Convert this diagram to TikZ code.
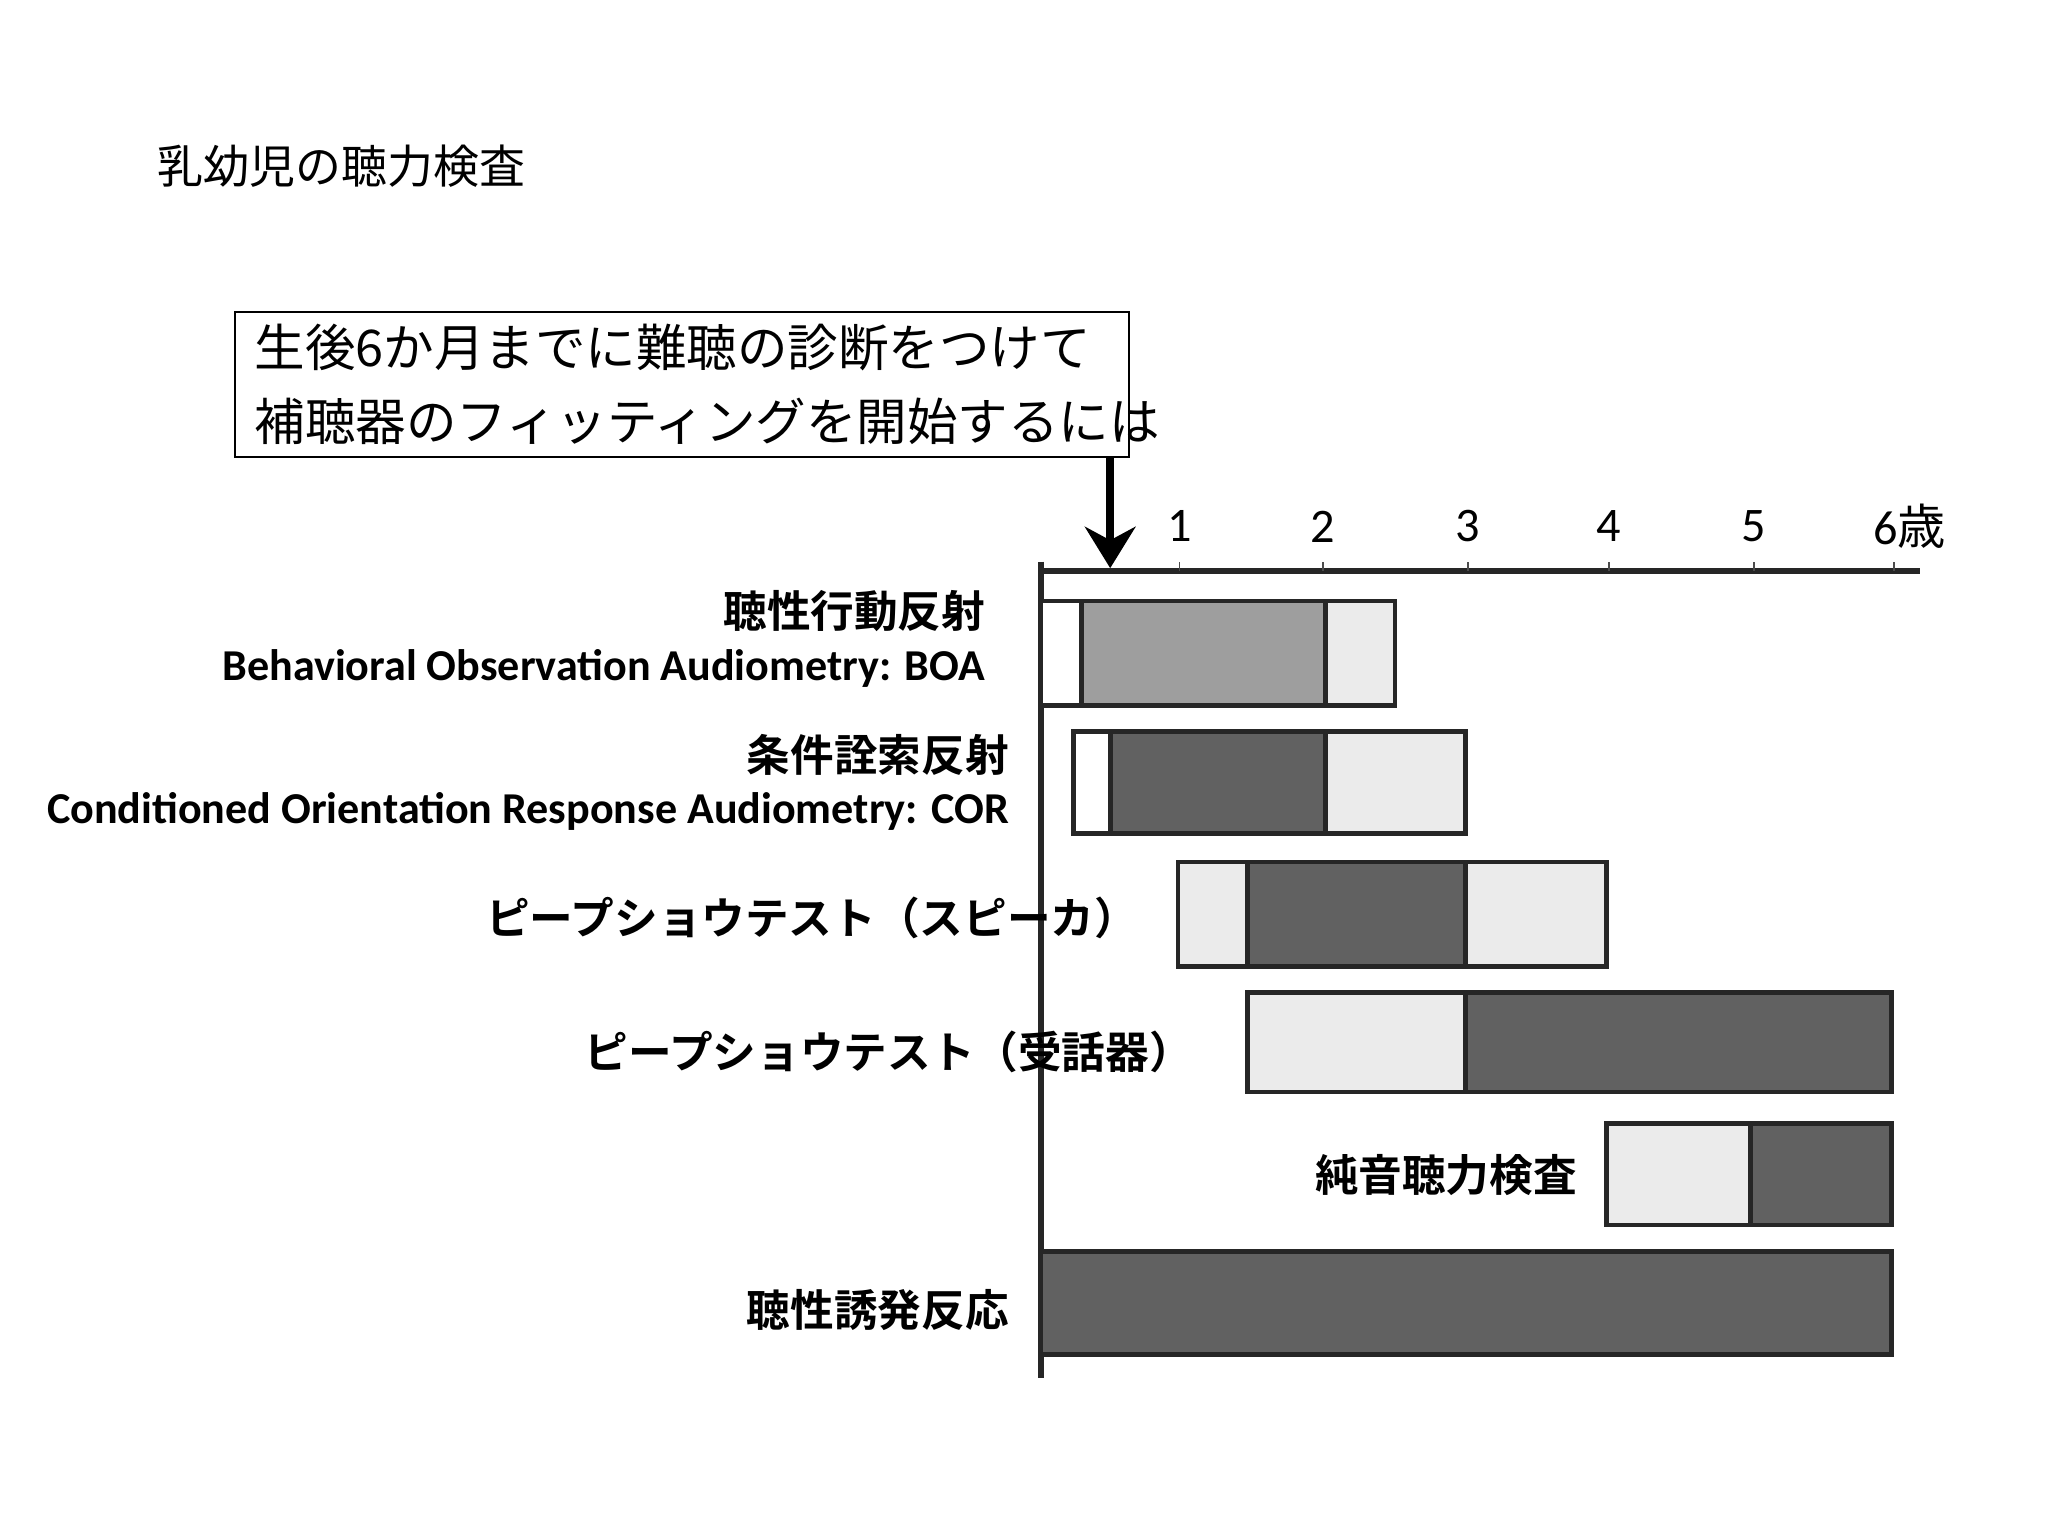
\documentclass[tikz,border=0pt]{standalone}
\usepackage{fontspec}
\usetikzlibrary{arrows.meta}
\setmainfont{Carlito}
\newfontfamily\jp{Noto Sans CJK JP}
\newfontfamily\jpb{Noto Sans CJK JP Bold}
\begin{document}
\begin{tikzpicture}[x=0.01cm,y=-0.01cm,
  barl/.style={fill=black!8,draw=none},
  barm/.style={fill=black!38,draw=none},
  bard/.style={fill=black!62,draw=none},
  barw/.style={fill=white,draw=none},
  outl/.style={draw=black!85,line width=1pt},
  lab/.style={anchor=east,font=\jpb\fontsize{9.5pt}{11pt}\selectfont,inner sep=0pt},
  labl/.style={anchor=east,font=\bfseries\fontsize{9.6pt}{11pt}\selectfont,inner sep=0pt},
  tick/.style={font=\fontsize{10.5pt}{12pt}\selectfont,inner sep=0pt}]
\useasboundingbox (0,0) rectangle (1568,1176);
\node[anchor=west,font=\jp\fontsize{10pt}{12pt}\selectfont,inner sep=0pt] (title) at (120,127) {乳幼児の聴力検査};
\node[draw,line width=0.5pt,inner sep=0pt,anchor=north west,text width=6.84cm,minimum height=1.11cm,align=left,font=\jp\fontsize{11pt}{16pt}\selectfont] (box) at (179,238)
 {\hspace*{0.15cm}生後6か月までに難聴の診断をつけて\\\hspace*{0.15cm}補聴器のフィッティングを開始するには};
\coordinate (arr) at (850,435);
\draw[line width=1.8pt,-{Stealth[length=9pt,width=11pt]}] (box.south -| arr) -- (arr);
% axes
\draw[line width=1.2pt,black!85] (797,430) -- (797,1055);
\draw[line width=1.2pt,black!85] (797,437) -- (1470,437);
\foreach \x/\t in {903/1,1013/2,1124/3,1232/4,1343/5}{
  \draw[black!70] (\x,437) -- (\x,430);
  \node[tick] at (\x,403) {\t};}
\draw[black!70] (1450,437) -- (1450,430);
\node[tick] at (1462,403) {6{\jp 歳}};
% bars
\fill[barw] (797,460) rectangle (828,540); \fill[barm] (828,460) rectangle (1015,540); \fill[barl] (1015,460) rectangle (1068,540);
\draw[outl] (797,460) rectangle (1068,540); \draw[outl] (828,460)--(828,540); \draw[outl] (1015,460)--(1015,540);
\fill[barw] (822,560) rectangle (850,638); \fill[bard] (850,560) rectangle (1015,638); \fill[barl] (1015,560) rectangle (1122,638);
\draw[outl] (822,560) rectangle (1122,638); \draw[outl] (850,560)--(850,638); \draw[outl] (1015,560)--(1015,638);
\fill[barl] (902,660) rectangle (955,740); \fill[bard] (955,660) rectangle (1122,740); \fill[barl] (1122,660) rectangle (1230,740);
\draw[outl] (902,660) rectangle (1230,740); \draw[outl] (955,660)--(955,740); \draw[outl] (1122,660)--(1122,740);
\fill[barl] (955,760) rectangle (1122,836); \fill[bard] (1122,760) rectangle (1448,836);
\draw[outl] (955,760) rectangle (1448,836); \draw[outl] (1122,760)--(1122,836);
\fill[barl] (1230,860) rectangle (1340,938); \fill[bard] (1340,860) rectangle (1448,938);
\draw[outl] (1230,860) rectangle (1448,938); \draw[outl] (1340,860)--(1340,938);
\fill[bard] (797,958) rectangle (1448,1037); \draw[outl] (797,958) rectangle (1448,1037);
% labels
\node[lab] (l1) at (755,468) {聴性行動反射};
\node[labl] (l1e) at (755,512) {Behavioral Observation Audiometry: BOA};
\node[lab] (l2) at (773,578) {条件詮索反射};
\node[labl] (l2e) at (773,621) {Conditioned Orientation Response Audiometry: COR};
\node[lab] (l3) at (872,703) {ピープショウテスト（スピーカ）};
\node[lab] (l4) at (914,805) {ピープショウテスト（受話器）};
\node[lab] (l5) at (1208,900) {純音聴力検査};
\node[lab] (l6) at (773,1003) {聴性誘発反応};
\end{tikzpicture}
\end{document}
